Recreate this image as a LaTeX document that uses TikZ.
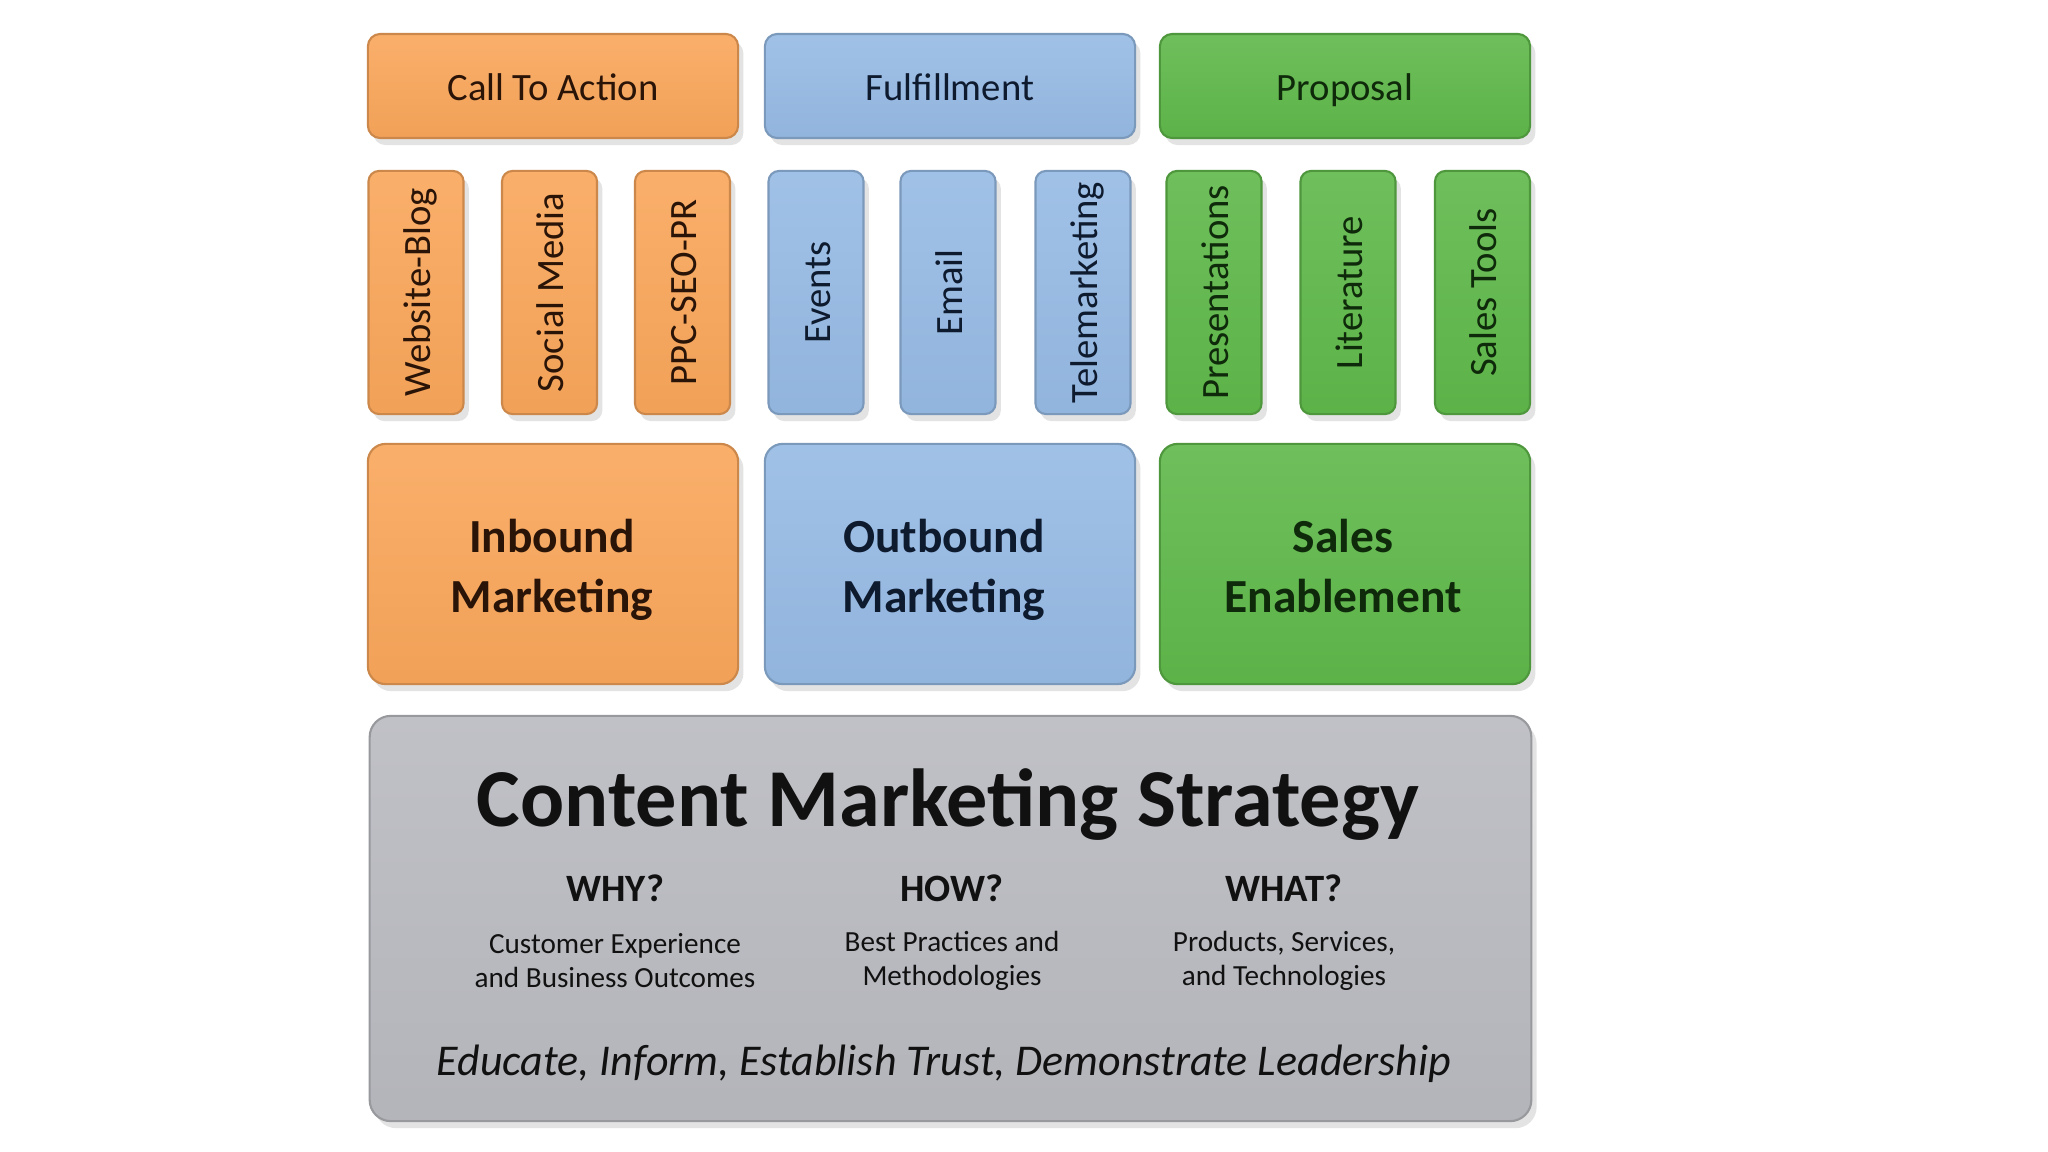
\documentclass[tikz,border=0pt]{standalone}
\usepackage{fontspec}
\setmainfont{Carlito}
\usetikzlibrary{shadows}
\definecolor{corange}{HTML}{F9A65A}
\definecolor{cblue}{HTML}{96BAE4}
\definecolor{cgreen}{HTML}{5FB84A}
\definecolor{cgrey}{HTML}{B9BAC0}
\definecolor{torange}{HTML}{2A1408}
\definecolor{tblue}{HTML}{0E1A2E}
\definecolor{tgreen}{HTML}{0E2A0A}
\definecolor{tgrey}{HTML}{111111}
\newcommand\dsc{\vphantom{g}}
\tikzset{
  box/.style={inner sep=0pt, align=center, draw=#1!82!black, line width=0.6pt,
    top color=#1!90!white, bottom color=#1!97!black,
    drop shadow={shadow xshift=1.5pt, shadow yshift=-2pt, opacity=0.22}},
  topbox/.style={box=#1, rounded corners=3.5pt, minimum width=3.70cm, minimum height=1.04cm,
    text height=0.8em, text depth=0pt, font=\fontsize{11}{13}\selectfont},
  vbox/.style={box=#1, rounded corners=3pt, rotate=90, minimum width=2.43cm, minimum height=0.95cm,
    text height=0.8em, text depth=0pt, font=\fontsize{11}{13}\selectfont},
  midbox/.style={box=#1, rounded corners=5pt, minimum width=3.70cm, minimum height=2.40cm},
  midtext/.style={inner sep=0pt, align=center, font=\fontsize{13.5}{16.9}\selectfont\bfseries},
  bigbox/.style={box=#1, rounded corners=6pt, minimum width=11.61cm, minimum height=4.05cm},
  qlabel/.style={font=\fontsize{11}{13}\selectfont\bfseries, text=tgrey},
  desc/.style={font=\fontsize{8.3}{9.7}\selectfont, text=tgrey, align=center}
}
\begin{document}
\begin{tikzpicture}[x=0.01cm,y=-0.01cm]
\fill[white] (0,0) rectangle (2048,1152);
% top row
\node[topbox=corange, text=torange] (cta) at (553,86) {Call To Action};
\node[topbox=cblue, text=tblue] (ful) at (950,86) {Fulfillment};
\node[topbox=cgreen, text=tgreen] (pro) at (1345,86) {Proposal};
% vertical boxes
\node[vbox=corange, text=torange] (web) at (416,292.5) {Website-Blog};
\node[vbox=corange, text=torange] (soc) at (549.5,292.5) {Social Media};
\node[vbox=corange, text=torange] (ppc) at (682.5,292.5) {PPC-SEO-PR};
\node[vbox=cblue, text=tblue] (evt) at (816,292.5) {Events};
\node[vbox=cblue, text=tblue] (eml) at (948,292.5) {Email};
\node[vbox=cblue, text=tblue] (tel) at (1083,292.5) {Telemarketing};
\node[vbox=cgreen, text=tgreen] (pre) at (1214,292.5) {Presentations};
\node[vbox=cgreen, text=tgreen] (lit) at (1348,292.5) {Literature};
\node[vbox=cgreen, text=tgreen] (sto) at (1482.5,292.5) {Sales Tools};
% middle row
\node[midbox=corange] (inb) at (553,564) {};
\node[midtext, text=torange] (inbt) at (552,570) {Inbound\\Marketing\dsc};
\node[midbox=cblue] (outb) at (950,564) {};
\node[midtext, text=tblue] (outbt) at (944,570) {Outbound\\Marketing\dsc};
\node[midbox=cgreen] (sen) at (1345,564) {};
\node[midtext, text=tgreen] (sent) at (1343,570) {Sales\\Enablement\dsc};
% bottom box
\node[bigbox=cgrey] (cms) at (950.5,918.5) {};
\node[font=\fontsize{23.4}{28}\selectfont\bfseries, text=tgrey] (title) at (948,805) {Content Marketing Strategy};
\node[qlabel] (why) at (615,888) {WHY?};
\node[qlabel] (how) at (952,888) {HOW?};
\node[qlabel] (what) at (1284,888) {WHAT?};
\node[desc] (whyd) at (615,961) {Customer Experience\\and Business Outcomes};
\node[desc] (howd) at (952,961) {Best Practices and\\Methodologies};
\node[desc] (whatd) at (1284,961) {Products, Services,\\and Technologies};
\node[font=\fontsize{12.5}{14}\selectfont\itshape, text=tgrey] (edu) at (944,1064) {Educate, Inform, Establish Trust, Demonstrate Leadership};
\end{tikzpicture}
\end{document}
